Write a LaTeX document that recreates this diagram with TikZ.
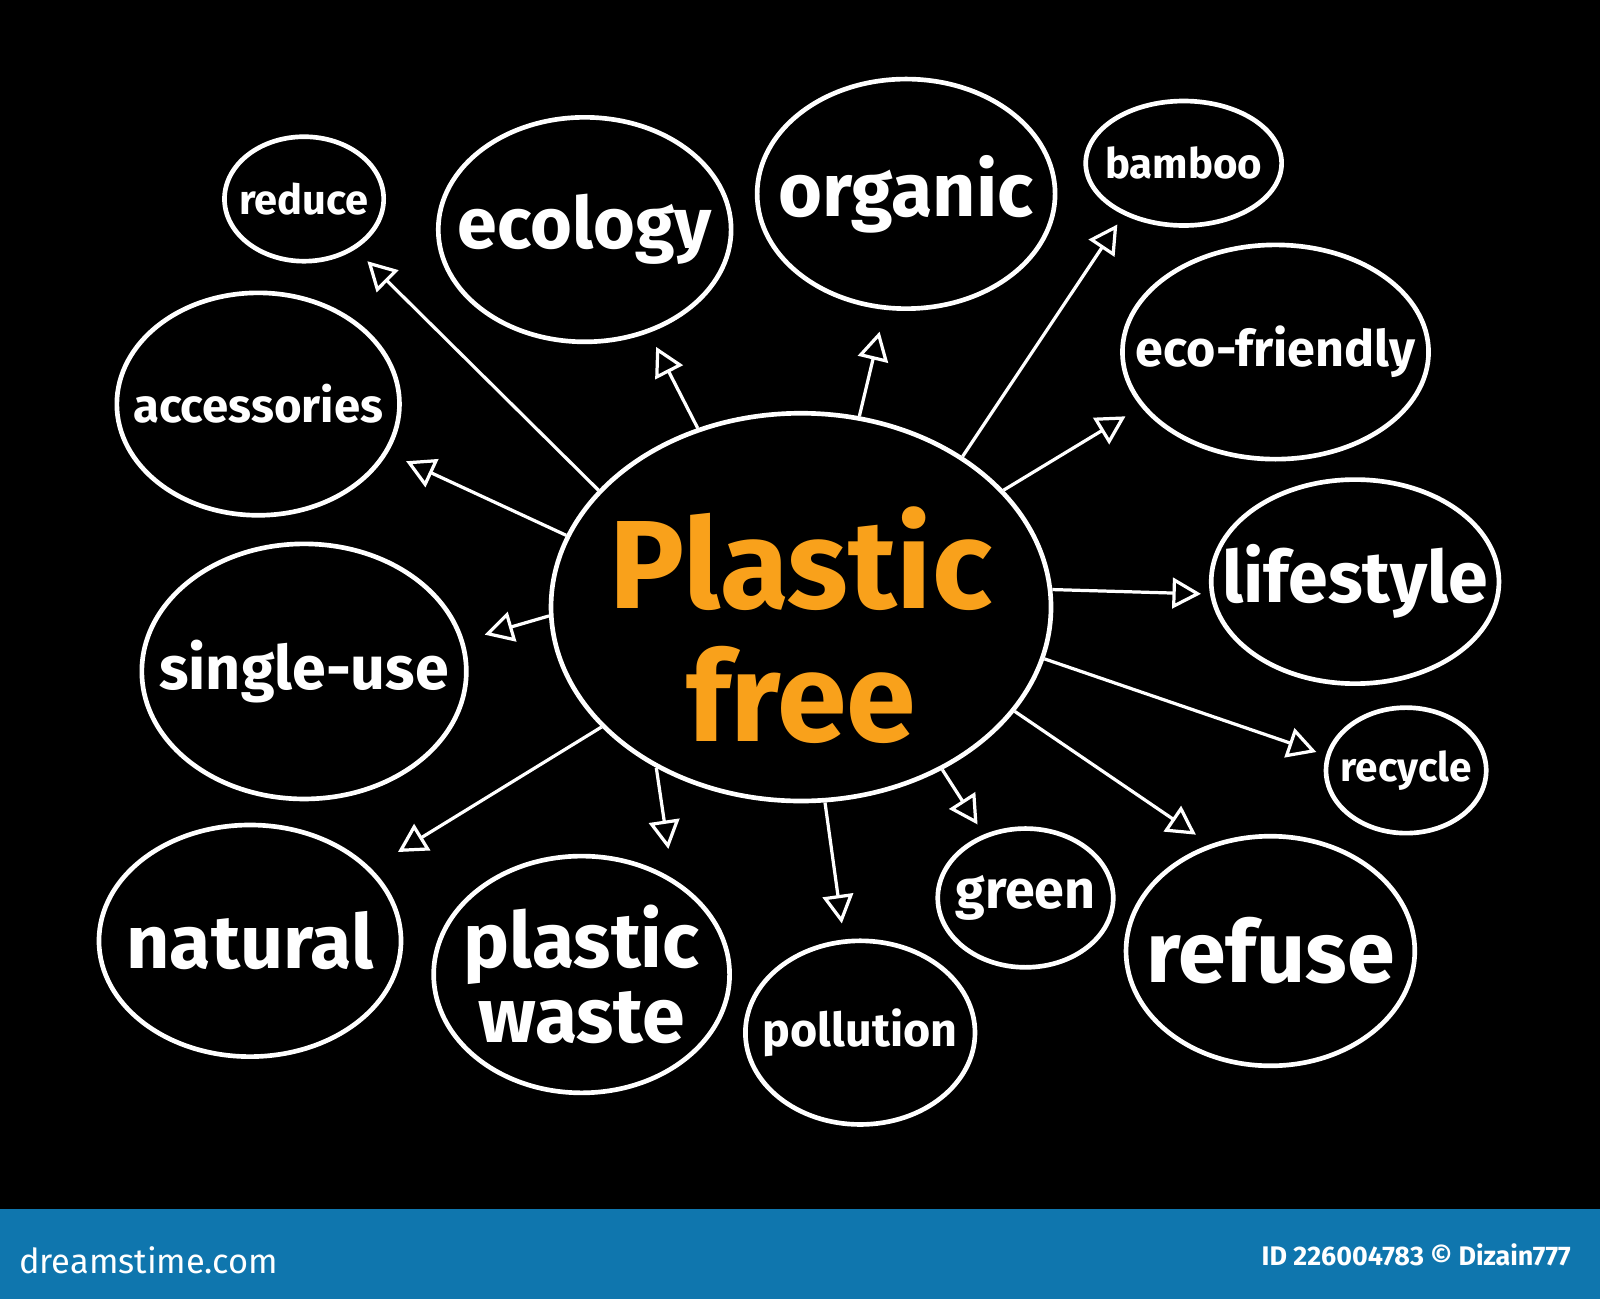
\documentclass[tikz,border=0pt]{standalone}
\usepackage{fontspec}
\setmainfont{Fira Sans}
\usetikzlibrary{arrows.meta, shapes.geometric}
\definecolor{barblue}{HTML}{0F76AE}
\definecolor{pforange}{HTML}{F9A11B}

\begin{document}
\begin{tikzpicture}[x=0.1mm, y=-0.1mm,
	bub/.style={ellipse, draw=white, line width=1.3pt, inner sep=0pt},
	lbl/.style 2 args={text=white, align=center, font=\bfseries\fontsize{#1}{#2}\selectfont},
	arr/.style={white, line width=0.9pt, -{Triangle[open, length=2.8mm, width=3mm, line width=0.9pt]}}]
	    \fill[black] (0,0) rectangle (1568,1273);
	    \fill[barblue] (0,1185) rectangle (1568,1273);
	    % centre
	    \node[bub, minimum width=49mm, minimum height=38mm, label={[lbl={35}{37}, text=pforange, yshift=-1.8mm]center:Plastic\\free}] (c) at (785,595) {};
	    % bubbles
	    \node[bub, minimum width=15.6mm, minimum height=12.2mm, label={[lbl={11.6}{14}]center:reduce}] (reduce) at (298,195) {};
	    \node[bub, minimum width=28.7mm, minimum height=22mm, label={[lbl={20}{24}]center:ecology}] (ecology) at (573,225) {};
	    \node[bub, minimum width=29.2mm, minimum height=22.5mm, label={[lbl={21}{24}]center:organic}] (organic) at (888,190) {};
	    \node[bub, minimum width=19.2mm, minimum height=12.2mm, label={[lbl={11.7}{14}]center:bamboo}] (bamboo) at (1160,160) {};
	    \node[bub, minimum width=30mm, minimum height=21mm, label={[lbl={14}{17}]center:eco-friendly}] (ecofriendly) at (1250,345) {};
	    \node[bub, minimum width=28.2mm, minimum height=20mm, label={[lbl={20}{24}]center:lifestyle}] (lifestyle) at (1328,570) {};
	    \node[bub, minimum width=15.7mm, minimum height=12.3mm, label={[lbl={11.3}{14}]center:recycle}] (recycle) at (1378,755) {};
	    \node[bub, minimum width=28.3mm, minimum height=22.5mm, label={[lbl={24}{28}]center:refuse}] (refuse) at (1245,932) {};
	    \node[bub, minimum width=17.2mm, minimum height=13.6mm, label={[lbl={15}{18}]center:green}] (green) at (1005,880) {};
	    \node[bub, minimum width=22.5mm, minimum height=18mm, label={[lbl={13}{16}]center:pollution}] (pollution) at (843,1012) {};
	    \node[bub, minimum width=29mm, minimum height=23.2mm, label={[lbl={21.5}{21}]center:plastic\\waste}] (waste) at (570,955) {};
	    \node[bub, minimum width=29.6mm, minimum height=22.7mm, label={[lbl={21}{24}]center:natural}] (natural) at (245,922) {};
	    \node[bub, minimum width=31.8mm, minimum height=25mm, label={[lbl={17}{20}]center:single-use}] (singleuse) at (298,658) {};
	    \node[bub, minimum width=27.7mm, minimum height=21.8mm, label={[lbl={13.2}{16}]center:accessories}] (accessories) at (253,396) {};
	    % arrow tips
	    \coordinate (t1) at (360,256);
	    \coordinate (t2) at (398,452);
	    \coordinate (t3) at (475,622);
	    \coordinate (t4) at (390,835);
	    \coordinate (t5) at (655,832);
	    \coordinate (t6) at (825,905);
	    \coordinate (t7) at (958,808);
	    \coordinate (t8) at (1172,818);
	    \coordinate (t9) at (1290,737);
	    \coordinate (t10) at (1177,582);
	    \coordinate (t11) at (1103,408);
	    \coordinate (t12) at (1095,220);
	    \coordinate (t13) at (862,325);
	    \coordinate (t14) at (643,340);
	    \draw[arr] (c.150) -- (t1);
	    \draw[arr] (c.163) -- (t2);
	    \draw[arr] (c.182) -- (t3);
	    \draw[arr] (c.211) -- (t4);
	    \draw[arr] (c.228) -- (t5);
	    \draw[arr] (c.277) -- (t6);
	    \draw[arr] (c.311) -- (t7);
	    \draw[arr] (c.334) -- (t8);
	    \draw[arr] (c.348) -- (t9);
	    \draw[arr] (c.4) -- (t10);
	    \draw[arr] (c.30) -- (t11);
	    \draw[arr] (c.43) -- (t12);
	    \draw[arr] (c.73) -- (t13);
	    \draw[arr] (c.120) -- (t14);
	    % bottom bar
	    \node[anchor=west, inner sep=0pt, text=white, font=\fontsize{9.6}{12}\selectfont] (site) at (18,1235) {dreamstime.com};
	    \node[anchor=east, inner sep=0pt, text=white, font=\bfseries\fontsize{7.5}{9}\selectfont] (imgid) at (1540,1230) {ID 226004783 \textcopyright{} Dizain777};
\end{tikzpicture}
\end{document}
